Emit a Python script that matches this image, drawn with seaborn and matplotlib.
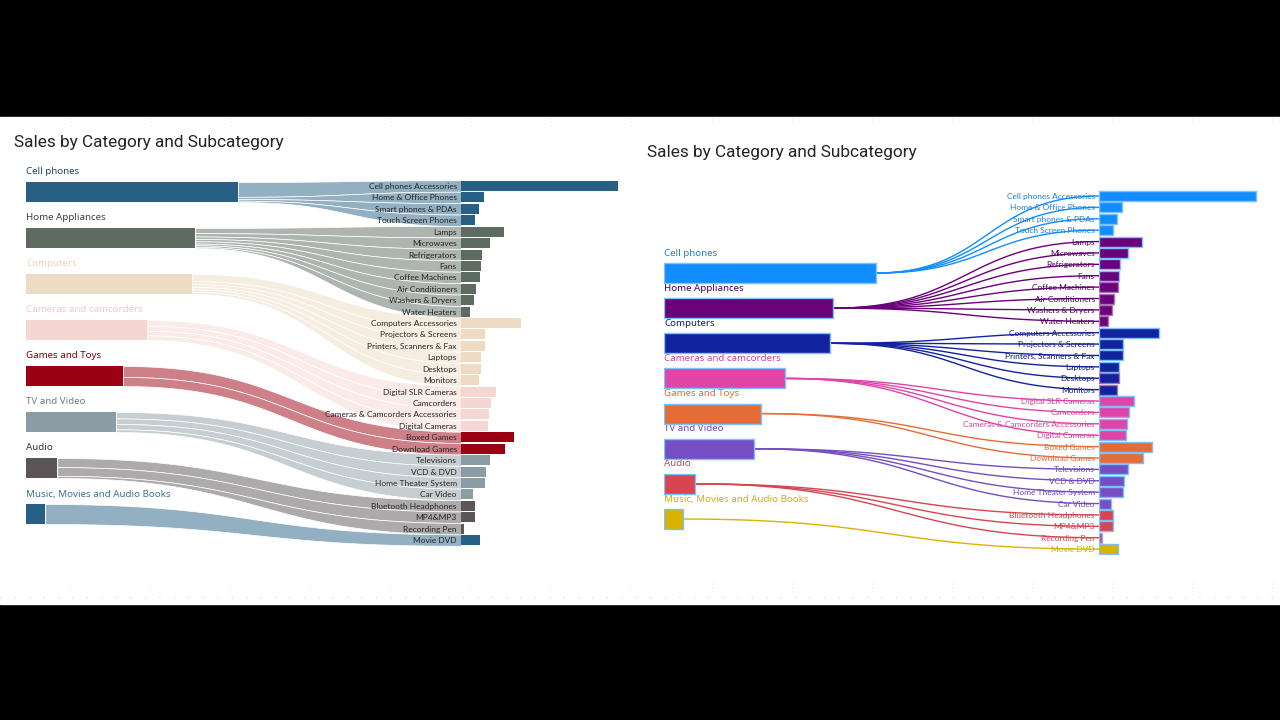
import numpy as np
import pandas as pd
import matplotlib.pyplot as plt
import seaborn as sns
from matplotlib.colors import to_rgb

sns.set_theme(style="white")
plt.rcParams['font.family'] = ['Noto Sans', 'DejaVu Sans']

# ---- data ----
categories = ["Cell phones", "Home Appliances", "Computers", "Cameras and camcorders",
              "Games and Toys", "TV and Video", "Audio", "Music, Movies and Audio Books"]
sub_names = ["Cell phones Accessories", "Home & Office Phones", "Smart phones & PDAs", "Touch Screen Phones",
             "Lamps", "Microwaves", "Refrigerators", "Fans", "Coffee Machines", "Air Conditioners",
             "Washers & Dryers", "Water Heaters",
             "Computers Accessories", "Projectors & Screens", "Printers, Scanners & Fax", "Laptops",
             "Desktops", "Monitors",
             "Digital SLR Cameras", "Camcorders", "Cameras & Camcorders Accessories", "Digital Cameras",
             "Boxed Games", "Download Games",
             "Televisions", "VCD & DVD", "Home Theater System", "Car Video",
             "Bluetooth Headphones", "MP4&MP3", "Recording Pen",
             "Movie DVD"]
sub_parent = (["Cell phones"] * 4 + ["Home Appliances"] * 8 + ["Computers"] * 6 +
              ["Cameras and camcorders"] * 4 + ["Games and Toys"] * 2 + ["TV and Video"] * 4 +
              ["Audio"] * 3 + ["Music, Movies and Audio Books"])
sub_values = [157.3, 23.3, 17.7, 13.7,
              43.3, 28.7, 21.3, 19.7, 19.0, 14.7, 13.3, 9.3,
              59.7, 24.3, 23.7, 20.3, 20.0, 18.0,
              35.3, 30.3, 27.7, 27.3,
              53.3, 43.7,
              29.0, 25.0, 24.0, 12.0,
              14.3, 13.7, 3.3,
              19.3]

left_colors = ["#275f85", "#5d6b60", "#eddbc3", "#f5d6d3", "#9c0013", "#8c9ca4", "#5b5557", "#275f85"]
left_label_colors = ["#1c4866", "#404040", "#e8d3b7", "#f0cac6", "#800012", "#6f7f87", "#333333", "#3f7396"]
right_colors = ["#118dff", "#6b007b", "#12239e", "#e044a7", "#e66c37", "#744ec2", "#d64550", "#d9b300"]
right_label_colors = ["#1a7fd8", "#4d0059", "#0e1b78", "#d2429e", "#e06a3a", "#6a48b8", "#d0434f", "#cfae10"]

subs = pd.DataFrame({"name": sub_names, "category": sub_parent, "value": sub_values})
totals = subs.groupby("category", sort=False)["value"].sum().reindex(categories)
cats = pd.DataFrame({"category": categories, "value": totals.values})


def mix(c, f):
    r = np.array(to_rgb(c))
    return tuple(r * f + (1 - f))


W, H = 1280, 720
fig = plt.figure(figsize=(12.8, 7.2), dpi=100, facecolor="black")
bg = fig.add_axes([0, 0, 1, 1])
bg.set_xlim(0, W)
bg.set_ylim(H, 0)
bg.axis("off")
bg.axhspan(117, 604, color="white", zorder=0)

# faint canvas grid dots
bg.plot([0, W], [597, 597], color="#cfcfcf", lw=0.8, ls=(0, (1, 12)), zorder=1)
for gx in list(np.arange(70, 640, 80)) + list(np.arange(712, 1280, 80)):
    bg.plot([gx, gx], [583, 590], color="#d8d8d8", lw=0.7, ls=(0, (1, 3)), zorder=1)
    bg.plot([gx, gx], [117, 122], color="#d8d8d8", lw=0.7, ls=(0, (1, 3)), zorder=1)


def px_axes(x, y, w, h):
    return fig.add_axes([x / W, 1 - (y + h) / H, w / W, h / H])


def bezier(x0, x1, y0, y1, n=80):
    t = np.linspace(0, 1, n)
    dx = x1 - x0
    x = x0 + dx * (1.5 * t * (1 - t) + t ** 3)
    s = 3 * t ** 2 - 2 * t ** 3
    return x, y0 + (y1 - y0) * s


def draw_panel(title_xy, cat_x, cat_y0, cat_step, sub_x, sub_y0, sub_step, colors, label_colors,
               sub_label_colors, ribbons, bar_edge):
    n_sub = len(subs)
    pal = dict(zip(categories, colors))
    # category bars
    axc = px_axes(cat_x, cat_y0 - cat_step / 2, 300, cat_step * len(categories))
    sns.barplot(data=cats, x="value", y="category", hue="category", palette=pal, dodge=False,
                legend=False, orient="h", width=20 / cat_step, saturation=1, ax=axc,
                edgecolor=[mix(c, 0.55) for c in colors] if bar_edge else "none",
                linewidth=1 if bar_edge else 0)
    axc.set_xlim(0, 300)
    axc.set_ylim(len(categories) - 0.5, -0.5)
    axc.axis("off")

    # subcategory bars
    axs = px_axes(sub_x, sub_y0 - sub_step / 2, 180, sub_step * n_sub)
    sns.barplot(data=subs, x="value", y="name", hue="category", palette=pal, dodge=False,
                legend=False, orient="h", width=10 / sub_step, saturation=1, ax=axs,
                edgecolor=[mix(pal[p], 0.55) for p in sub_parent] if bar_edge else "none",
                linewidth=1 if bar_edge else 0)
    axs.set_xlim(0, 180)
    axs.set_ylim(n_sub - 0.5, -0.5)
    axs.set_xticks([])
    axs.set_xlabel("")
    axs.set_ylabel("")
    axs.patch.set_alpha(0)
    sns.despine(ax=axs, left=True, bottom=True)
    axs.tick_params(axis="y", length=0, pad=3, labelsize=6.0)
    for lbl, c in zip(axs.get_yticklabels(), sub_label_colors):
        lbl.set_color(c)
        lbl.set_family(["Lato", "DejaVu Sans"])
    axs.set_zorder(3)

    # flows
    row = 0
    starts = []
    for i, cat in enumerate(categories):
        k = (subs["category"] == cat).values
        starts.append(row)
        row += k.sum()
    order = range(len(categories) - 1, -1, -1) if ribbons else range(len(categories))
    for i in order:
        cat = categories[i]
        vals = subs.loc[subs["category"] == cat, "value"].values
        tot = vals.sum()
        xs = cat_x + tot
        yc = cat_y0 + i * cat_step
        cum = 0
        for j, v in enumerate(vals):
            ry = sub_y0 + (starts[i] + j) * sub_step
            if ribbons:
                st = yc - 10 + 20 * cum / tot
                sb = st + 20 * v / tot
                x, yt = bezier(xs, sub_x, st, ry - sub_step / 2)
                _, yb = bezier(xs, sub_x, sb, ry + sub_step / 2)
                bg.fill_between(x, yt, yb, facecolor=mix(colors[i], 0.5), edgecolor="white",
                                lw=0.5, zorder=2)
            else:
                x, y = bezier(xs, sub_x, yc, ry)
                bg.plot(x, y, color=colors[i], lw=1.0, zorder=2, solid_capstyle="butt")
            cum += v
        bg.text(cat_x, yc - 20, cat, fontsize=7, color=label_colors[i], va="center", ha="left",
                zorder=4)

    bg.text(title_xy[0], title_xy[1], "Sales by Category and Subcategory", fontsize=12.4,
            family=["Roboto", "DejaVu Sans"], color="#252423", va="center", ha="left", zorder=4)


sub_col_right = [dict(zip(categories, right_label_colors))[p] for p in sub_parent]
draw_panel((14, 143), 26, 192, 46, 461, 186, 11.42, left_colors, left_label_colors,
           ["#252423"] * len(sub_names), True, False)
draw_panel((647, 152), 664, 273, 35.15, 1099, 196, 11.39, right_colors, right_label_colors,
           sub_col_right, False, True)

fig.savefig("out.png", dpi=100, facecolor="black")
